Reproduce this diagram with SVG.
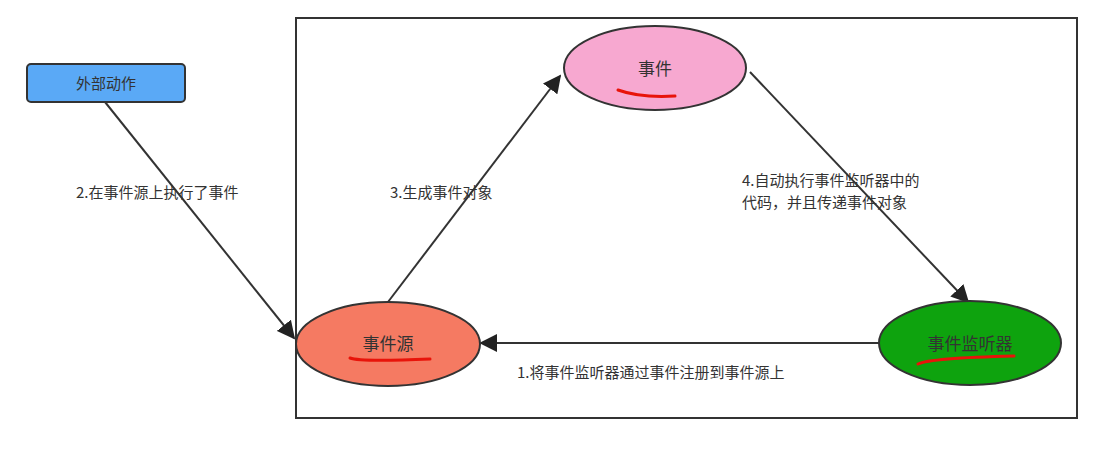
<svg xmlns="http://www.w3.org/2000/svg" width="1112" height="456" viewBox="0 0 1112 456">
<style>
text{font-family:"Noto Sans CJK SC","Liberation Sans",sans-serif;fill:#333}
.lbl{font-size:15px}
.node{font-size:17px}
.c{stroke:#333;stroke-width:2;fill:none;marker-end:url(#ah)}
.ul{stroke:#e8140a;stroke-width:3;fill:none;stroke-linecap:round}
</style>
<defs><marker id="ah" viewBox="0 0 10 10" refX="9" refY="5" markerWidth="9" markerHeight="9" orient="auto" markerUnits="userSpaceOnUse"><path d="M0,0L10,5L0,10z" fill="#222"/></marker>
<marker id="ah2" viewBox="0 0 10 10" refX="9" refY="5" markerWidth="18" markerHeight="18" orient="auto" markerUnits="userSpaceOnUse"><path d="M0,0L10,5L0,10z" fill="#222"/></marker></defs>
<rect width="1112" height="456" fill="#fff"/>
<rect x="296" y="18" width="781" height="400" fill="none" stroke="#333" stroke-width="2"/>
<g id="connectors">
<path d="M105,102L294,338" stroke="#333" stroke-width="2" marker-end="url(#ah2)"/>
<path d="M388,302L560,76" stroke="#333" stroke-width="2" marker-end="url(#ah2)"/>
<path d="M750,72L968,302" stroke="#333" stroke-width="2" marker-end="url(#ah2)"/>
<path d="M880,343L481,343" stroke="#333" stroke-width="2" marker-end="url(#ah2)"/>
<text class="lbl" x="76" y="198">2.在事件源上执行了事件</text>
<text class="lbl" x="390" y="198">3.生成事件对象</text>
<text class="lbl" x="742" y="186">4.自动执行事件监听器中的</text>
<text class="lbl" x="742" y="208">代码，并且传递事件对象</text>
<text class="lbl" x="517" y="378">1.将事件监听器通过事件注册到事件源上</text>
</g>
<g id="n-outer"><rect x="27" y="64" width="158" height="38" rx="4" fill="#5aa9f6" stroke="#333" stroke-width="2"/><text class="lbl" x="106" y="89" text-anchor="middle">外部动作</text></g>
<g id="n-event"><ellipse cx="655" cy="68" rx="91" ry="42" fill="#f7a8d0" stroke="#333" stroke-width="2"/><text class="node" x="655" y="75" text-anchor="middle">事件</text><path class="ul" d="M618,90Q640,98 675,96"/></g>
<g id="n-source"><ellipse cx="388" cy="344" rx="92" ry="42" fill="#f57a62" stroke="#333" stroke-width="2"/><text class="node" x="388" y="350" text-anchor="middle">事件源</text><path class="ul" d="M350,358Q360,362 430,359"/></g>
<g id="n-listener"><ellipse cx="970" cy="343" rx="91" ry="42" fill="#0ea30e" stroke="#333" stroke-width="2"/><text class="node" x="970" y="350" text-anchor="middle">事件监听器</text><path class="ul" d="M918,364Q930,358 1014,356"/></g>
</svg>
